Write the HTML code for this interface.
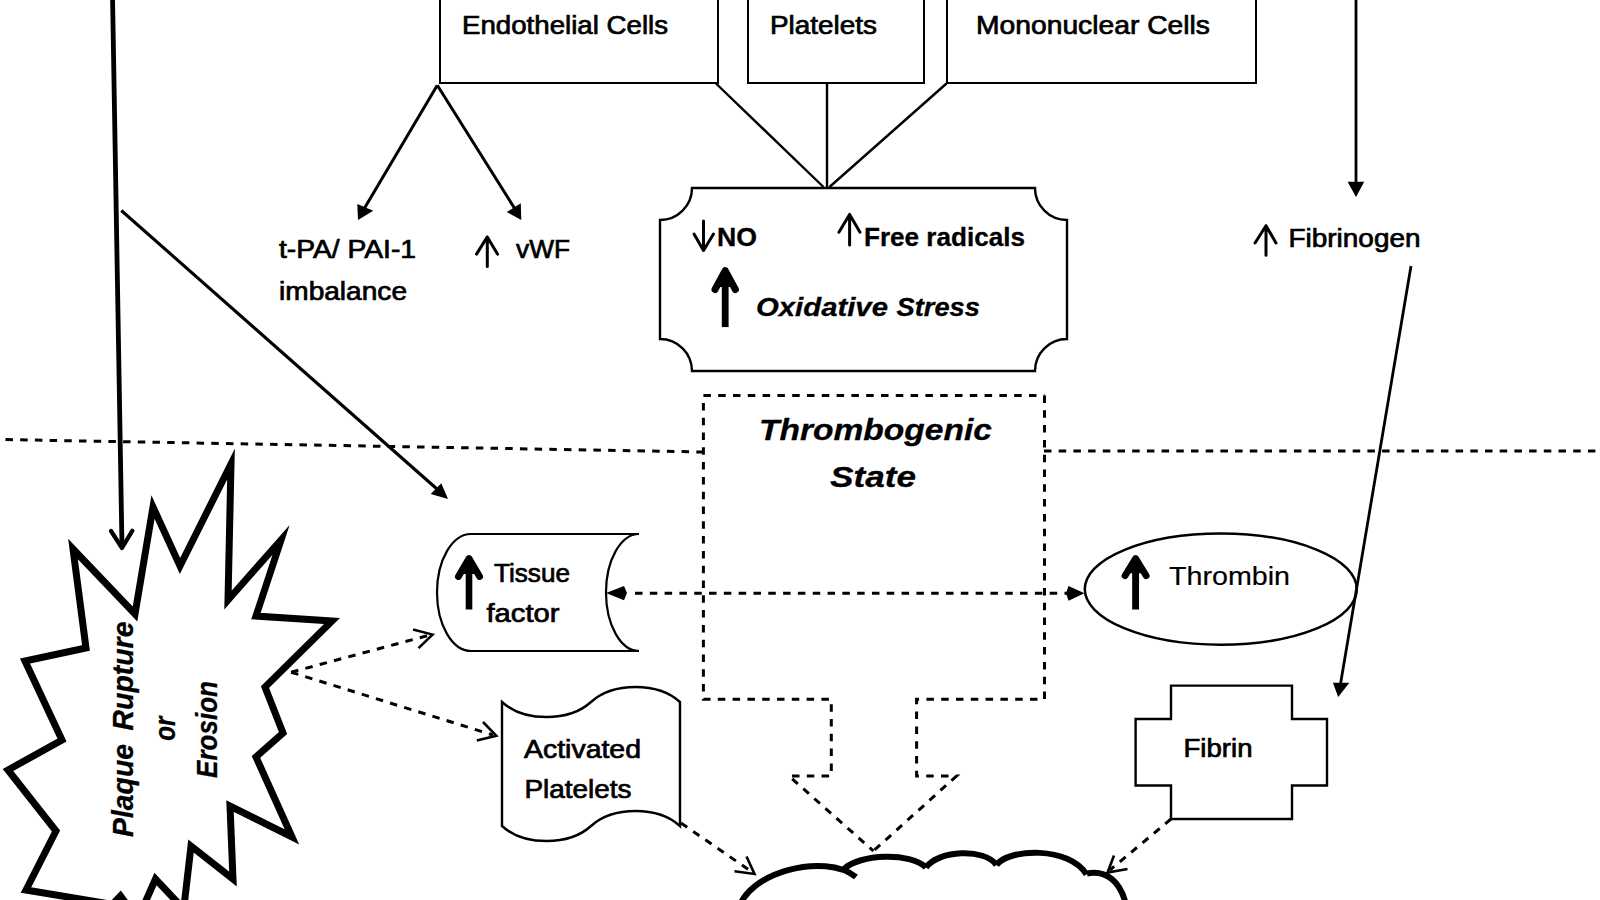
<!DOCTYPE html>
<html><head><meta charset="utf-8">
<style>
html,body{margin:0;padding:0;background:#fff;width:1600px;height:900px;overflow:hidden}
svg{display:block}
text{font-family:"Liberation Sans",sans-serif;fill:#000}
.r{font-size:25px;stroke:#000;stroke-width:0.7px}
.b{font-size:25px;font-weight:bold;stroke:#000;stroke-width:0.3px}
.bi{font-size:30px;font-weight:bold;font-style:italic;stroke:#000;stroke-width:0.3px}
</style></head><body>
<svg width="1600" height="900" viewBox="0 0 1600 900">
<rect width="1600" height="900" fill="#fff"/>
<g fill="none" stroke="#000" stroke-linecap="butt">
  <!-- top boxes -->
  <rect x="440" y="-10" width="278" height="93" stroke-width="2"/>
  <rect x="748" y="-10" width="176" height="93" stroke-width="2"/>
  <rect x="947" y="-10" width="309" height="93" stroke-width="2"/>
  <!-- converging lines -->
  <path d="M716,83.5 L823.5,187 M827,83 L827,187 M946.5,83.5 L829.5,187" stroke-width="2.4"/>
  <!-- endothelial arrows -->
  <path d="M437.3,85.3 L364,209 M437.3,85.3 L515,209" stroke-width="3"/>
  <!-- left long vertical arrow -->
  <path d="M112.5,-5 L122,547" stroke-width="4.8"/>
  <path d="M111,531 L122,548 L132.4,530.7" stroke-width="4.2" stroke-linejoin="round" stroke-linecap="round"/>
  <!-- diagonal line -->
  <path d="M121.3,210.5 L437,489" stroke-width="3.1"/>
  <!-- right vertical arrow -->
  <path d="M1356,-5 L1356,183" stroke-width="2.8"/>
  <!-- fibrinogen line -->
  <path d="M1411,266 L1340.5,684" stroke-width="2.8"/>
  <!-- dashed horizontal -->
  <path d="M5.5,439.6 L703,452" stroke-width="3" stroke-dasharray="7.5 7.2"/>
  <path d="M1044,451 L1600,451" stroke-width="3" stroke-dasharray="7.5 7.2"/>
  <!-- oxidative plaque -->
  <path d="M692,188 L1035,188 A32,32 0 0 0 1067,220 L1067,339 A32,32 0 0 0 1035,371 L692,371 A32,32 0 0 0 660,339 L660,220 A32,32 0 0 0 692,188 Z" stroke-width="2.4"/>
  <!-- thrombogenic dashed arrow -->
  <path d="M703.4,395.5 L1044.5,395.5" stroke-width="3" stroke-dasharray="7.5 7.3"/>
  <path d="M1044.5,395.5 L1044.5,699.3 L916.6,699.3 L916.6,776 L956.5,776 L873.4,851" stroke-width="3" stroke-dasharray="7.5 7.3"/>
  <path d="M703.4,395.5 L703.4,699.3 L831.3,699.3 L831.3,776 L789,776 L873.4,851" stroke-width="3" stroke-dasharray="7.5 7.3" stroke-dashoffset="7.4"/>
  <!-- tissue factor -->
  <path d="M471,534 L639,534 A33,58.5 0 0 0 639,651 L471,651 A34,58.5 0 0 1 471,534 Z" stroke-width="2.2"/>
  <!-- thrombin -->
  <ellipse cx="1220.8" cy="589.1" rx="136" ry="55.6" stroke-width="2.5"/>
  <!-- bidirectional dashed -->
  <path d="M635,593.2 L1067,593.2" stroke-width="3" stroke-dasharray="7.5 7.31"/>
  <!-- fibrin cross -->
  <path d="M1171,685.6 L1292,685.6 L1292,719 L1327,719 L1327,785.5 L1292,785.5 L1292,819 L1171,819 L1171,785.5 L1135.6,785.5 L1135.6,719 L1171,719 Z" stroke-width="2.4"/>
  <!-- activated platelets -->
  <path d="M502,702 C524,722 569,722 591,702 C613,682 658,682 680,702 L680,826 C658,806 613,806 591,826 C569,846 524,846 502,826 Z" stroke-width="2.4"/>
  <!-- starburst -->
  <path d="M73,549 L135,614 L153,507 L180,566 L231,464 L228,600 L281,540 L256,616 L332,621 L265,687 L283,733 L256,757 L292,837 L230,806 L233,879 L191,846 L183.7,909 L155.5,879 L137.8,919 L120.5,896 L112.4,904.4 L26,890 L56,831 L8,770 L62,740 L25,661 L86,648 Z" stroke-width="7" stroke-linejoin="miter" stroke-miterlimit="20"/>
  <!-- dashed arrows from starburst -->
  <path d="M291.1,672.2 L430,635 M291.1,672.2 L493,735" stroke-width="3" stroke-dasharray="7.5 7.3"/>
  <path d="M413,629.4 L432.5,634.6 L418.5,648.1 M483,722 L496.3,735.7 L476.8,740.6" stroke-width="2.6" stroke-linejoin="miter"/>
    <!-- dashed arrows to cloud -->
  <path d="M681,823 L752,872 M1171,819 L1110,870" stroke-width="3" stroke-dasharray="7.5 7.3"/>
  <path d="M746.5,856.5 L754.5,874 L734.5,871.2 M1114,855.5 L1107.5,872.5 L1127.5,869" stroke-width="2.6"/>
  <!-- cloud -->
  <path d="M738,912 C745,872 825,852 856,877" stroke-width="6"/>
  <path d="M844,869 C859,854 911,852 926,867.5" stroke-width="6"/>
  <path d="M926,867.5 C938,850 985,848 996.5,865" stroke-width="6"/>
  <path d="M996.5,865 C1008,848.5 1070,846 1086.5,874.5" stroke-width="6"/>
  <path d="M1087,873.5 C1105,870 1122,880 1127,910" stroke-width="6"/>
  <!-- thin arrow glyphs -->
  <path d="M703.5,221 L703.5,250.5 M694,234 L703.5,250.5 L713.5,234" stroke-width="3" stroke-linecap="round" stroke-linejoin="round"/>
  <path d="M849.6,214.4 L849.6,245 M838.9,232.2 L849.6,214.4 L860,232.2" stroke-width="3" stroke-linecap="round" stroke-linejoin="round"/>
  <path d="M487.3,236.9 L487.3,266.4 M476.5,254.1 L487.3,236.9 L497.5,254.1" stroke-width="3" stroke-linecap="round" stroke-linejoin="round"/>
  <path d="M1266,225.7 L1266,255.3 M1255,243 L1266,225.7 L1276,243" stroke-width="3" stroke-linecap="round" stroke-linejoin="round"/>
  <!-- thick arrow glyphs -->
  <path d="M715.0,289.5 L725.2,270.6 L735.4,289.5" stroke-width="7" stroke-linecap="round" stroke-linejoin="round"/>
  <polygon fill="#000" stroke="none" points="725.2,270.6 717.9,287.0 732.5,287.0"/>
  <path d="M725.2,276.6 L725.2,327.1" stroke-width="6.8"/>
  <path d="M458.4,576.5 L469.0,558.5 L479.6,576.5" stroke-width="6.8" stroke-linecap="round" stroke-linejoin="round"/>
  <polygon fill="#000" stroke="none" points="469.0,558.5 461.4,574.0 476.6,574.0"/>
  <path d="M469.0,564.5 L469.0,609.5" stroke-width="6.6"/>
  <path d="M1125.0,575.7 L1135.6,558.5 L1146.2,575.7" stroke-width="6.8" stroke-linecap="round" stroke-linejoin="round"/>
  <polygon fill="#000" stroke="none" points="1135.6,558.5 1128.0,573.2 1143.2,573.2"/>
  <path d="M1135.6,564.5 L1135.6,609.5" stroke-width="6.9"/>
</g>
<g fill="#000" stroke="none">
  <!-- filled arrowheads -->
  <polygon points="358,220 357.3,204 373.3,210.7"/>
  <polygon points="521.3,220 506.7,212 520.8,203.2"/>
  <polygon points="448,498.9 430.7,494 441.3,483.3"/>
  <polygon points="1356,197 1347.6,181.7 1364.2,181.7"/>
  <polygon points="1338.2,696.9 1332.9,682.7 1349.4,682.7"/>
  <polygon points="606,593.1 624,586 627,593.1 624,600.2"/>
  <polygon points="1084.5,593.3 1068.5,585.9 1066,593.3 1068.5,600.7"/>
</g>
<text class="r" x="462" y="34" textLength="206" lengthAdjust="spacingAndGlyphs">Endothelial Cells</text>
<text class="r" x="770" y="34" textLength="107" lengthAdjust="spacingAndGlyphs">Platelets</text>
<text class="r" x="976" y="34" textLength="234" lengthAdjust="spacingAndGlyphs">Mononuclear Cells</text>
<text class="r" x="279" y="258" textLength="137" lengthAdjust="spacingAndGlyphs">t-PA/ PAI-1</text>
<text class="r" x="279" y="300" textLength="128" lengthAdjust="spacingAndGlyphs">imbalance</text>
<text class="r" x="516" y="258" textLength="54" lengthAdjust="spacingAndGlyphs">vWF</text>
<text class="b" x="717" y="246" textLength="40" lengthAdjust="spacingAndGlyphs">NO</text>
<text class="b" x="864" y="245.6" textLength="161" lengthAdjust="spacingAndGlyphs">Free radicals</text>
<text class="bi" style="font-size:25px" x="756" y="316" textLength="132" lengthAdjust="spacingAndGlyphs">Oxidative</text>
<text class="bi" style="font-size:25px" x="896.5" y="316" textLength="83.5" lengthAdjust="spacingAndGlyphs">Stress</text>
<text class="r" x="1288.5" y="247.4" textLength="132" lengthAdjust="spacingAndGlyphs">Fibrinogen</text>
<text class="bi" x="759" y="440.2" textLength="233" lengthAdjust="spacingAndGlyphs">Thrombogenic</text>
<text class="bi" x="830" y="486.6" textLength="86" lengthAdjust="spacingAndGlyphs">State</text>
<text class="r" x="494" y="582" textLength="76" lengthAdjust="spacingAndGlyphs">Tissue</text>
<text class="r" x="486.5" y="622" textLength="73" lengthAdjust="spacingAndGlyphs">factor</text>
<text class="r" style="stroke-width:0.2px" x="1169" y="584.6" textLength="121" lengthAdjust="spacingAndGlyphs">Thrombin</text>
<text class="r" x="524" y="758" textLength="117" lengthAdjust="spacingAndGlyphs">Activated</text>
<text class="r" x="524.5" y="798" textLength="107" lengthAdjust="spacingAndGlyphs">Platelets</text>
<text class="r" x="1183.5" y="757" textLength="69" lengthAdjust="spacingAndGlyphs">Fibrin</text>
<text class="bi" transform="translate(133.3,837) rotate(-90)" x="0" y="0" textLength="93" lengthAdjust="spacingAndGlyphs">Plaque</text>
<text class="bi" transform="translate(133.3,730.5) rotate(-90)" x="0" y="0" textLength="109" lengthAdjust="spacingAndGlyphs">Rupture</text>
<text class="bi" transform="translate(174.7,740.7) rotate(-90)" x="0" y="0" textLength="24" lengthAdjust="spacingAndGlyphs">or</text>
<text class="bi" transform="translate(217.3,778) rotate(-90)" x="0" y="0" textLength="97" lengthAdjust="spacingAndGlyphs">Erosion</text>
</svg>
</body></html>
